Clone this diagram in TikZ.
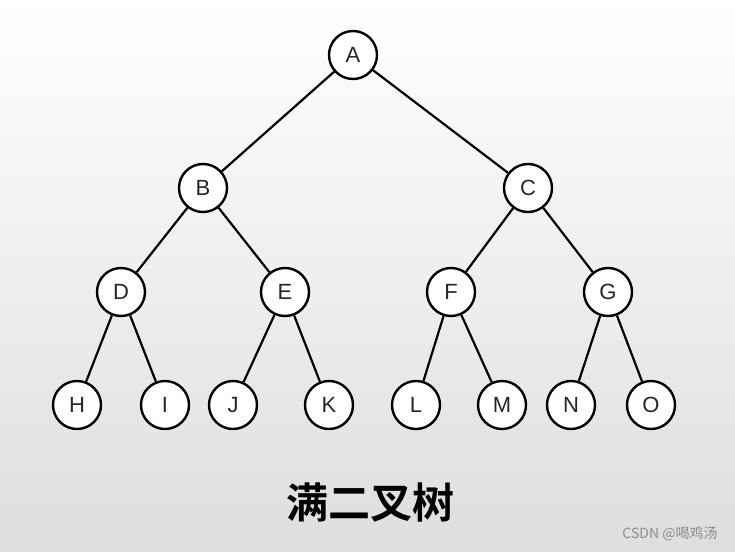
\documentclass[tikz,border=0pt]{standalone}
\usepackage{fontspec}
\setmainfont{Liberation Sans}
\newfontfamily\cjk{Noto Sans CJK SC}
\newfontfamily\cjkbold{Noto Sans CJK SC Bold}
\begin{document}
\begin{tikzpicture}[x=1pt,y=-1pt,
  treenode/.style={circle,draw=black,line width=2.4pt,fill=white,minimum size=48pt,inner sep=0pt,font=\fontsize{22}{22}\selectfont,text=black!85},
  edge/.style={line width=2.2pt,black}]
\useasboundingbox (0,0) rectangle (735,551);
\shade[top color=white,bottom color=black!13] (0,0) rectangle (735,551);
\node[treenode] (A) at (353,55) {A};
\node[treenode] (B) at (203,188) {B};
\node[treenode] (C) at (528,188) {C};
\node[treenode] (D) at (121,292) {D};
\node[treenode] (E) at (285,292) {E};
\node[treenode] (F) at (451,292) {F};
\node[treenode] (G) at (608,292) {G};
\node[treenode] (H) at (77,405) {H};
\node[treenode] (I) at (165,405) {I};
\node[treenode] (J) at (233,405) {J};
\node[treenode] (K) at (329,405) {K};
\node[treenode] (L) at (416,405) {L};
\node[treenode] (M) at (502,405) {M};
\node[treenode] (N) at (571,405) {N};
\node[treenode] (O) at (651,405) {O};
\foreach \p/\c in {A/B,A/C,B/D,B/E,C/F,C/G,D/H,D/I,E/J,E/K,F/L,F/M,G/N,G/O}
  \draw[edge] (\p) -- (\c);
\node[font=\cjkbold\fontsize{42}{42}\selectfont] (title) at (370,503) {满二叉树};
\node[font=\cjk\fontsize{14}{14}\selectfont,text=black!45] (mark) at (670,534) {CSDN @喝鸡汤};
\end{tikzpicture}
\end{document}
